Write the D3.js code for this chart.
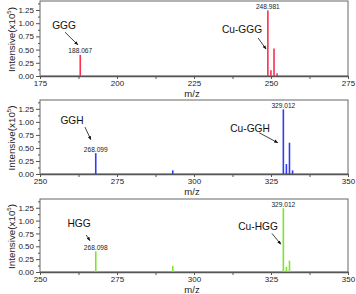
<!DOCTYPE html>
<html>
<head>
<meta charset="utf-8">
<script src="https://cdn.jsdelivr.net/npm/d3@7"></script>
<style>
  body { margin: 0; background: #fff; }
  svg { display: block; font-family: "Liberation Sans", Arial, sans-serif; }
  .axis path, .axis line { stroke: #555; }
  .axis text { fill: #222; font-size: 8px; }
</style>
</head>
<body>
<script>
// peak m/z values and intensities (x10^5) for each spectrum
var mzGGG  = [188.067, 248.981, 249.98, 250.98, 251.98];
var intGGG = [0.40, 1.24, 0.11, 0.52, 0.05];

var mzGGH  = [268.099, 293.1, 329.012, 330.0, 331.0, 332.0];
var intGGH = [0.40, 0.07, 1.24, 0.19, 0.60, 0.07];

var mzHGG  = [268.098, 293.1, 329.012, 330.0, 331.0];
var intHGG = [0.40, 0.12, 1.24, 0.10, 0.22];

var yTicks = [0, 0.25, 0.5, 0.75, 1.0, 1.25];
var xTicks1 = [175, 200, 225, 250, 275];
var xTicks2 = [250, 275, 300, 325, 350];

// labelled peaks: [name, peak index, label mz, label int, arrow from, arrow to]
var notes1 = [["GGG", 0, 182.8, 0.89, [183.1, 0.83], [187.3, 0.59]],
              ["Cu-GGG", 1, 240.6, 0.81, [245.8, 0.72], [248.4, 0.51]]];
var notes2 = [["GGH", 0, 260.4, 0.95, [264.6, 0.90], [266.5, 0.66]],
              ["Cu-GGH", 2, 318.2, 0.81, [321.2, 0.79], [327.2, 0.60]]];
var notes3 = [["HGG", 0, 262.7, 0.87, [265.0, 0.72], [266.2, 0.61]],
              ["Cu-HGG", 2, 320.8, 0.81, [325.3, 0.75], [328.2, 0.54]]];

var W = 356, H = 294;
var left = 40, right = 348;

var panels = [
  {mz: mzGGG, val: intGGG, notes: notes1, dom: [175, 275], ticks: xTicks1, color: "#fb3050", top: 1, bottom: 76},
  {mz: mzGGH, val: intGGH, notes: notes2, dom: [250, 350], ticks: xTicks2, color: "#2f3cf5", top: 100, bottom: 174},
  {mz: mzHGG, val: intHGG, notes: notes3, dom: [250, 350], ticks: xTicks2, color: "#7ae62a", top: 199, bottom: 272}
];

var svg = d3.select("body").append("svg")
    .attr("width", W)
    .attr("height", H);

var defs = svg.append("defs");
defs.append("marker")
    .attr("id", "arr")
    .attr("viewBox", "0 0 10 10")
    .attr("refX", 9).attr("refY", 5)
    .attr("markerWidth", 5).attr("markerHeight", 5)
    .attr("orient", "auto")
    .append("path")
    .attr("d", "M0,1L10,5L0,9Z")
    .attr("fill", "#111");

panels.forEach(function (p) {
    var x = d3.scaleLinear().domain(p.dom).range([left, right]);
    var y = d3.scaleLinear().domain([0, 1.42]).range([p.bottom, p.top]);

    var g = svg.append("g");

    // frame
    g.append("rect")
        .attr("x", left).attr("y", p.top)
        .attr("width", right - left).attr("height", p.bottom - p.top)
        .attr("fill", "none")
        .attr("stroke", "#666")
        .attr("stroke-width", 1);

    // minor ticks
    var minorX = d3.range(p.dom[0], p.dom[1] + 0.1, 12.5);
    g.append("g")
        .attr("class", "axis")
        .attr("transform", "translate(0," + p.bottom + ")")
        .call(d3.axisBottom(x).tickValues(minorX).tickSize(3).tickFormat(""))
        .select(".domain").remove();
    g.append("g")
        .attr("class", "axis")
        .attr("transform", "translate(" + left + ",0)")
        .call(d3.axisLeft(y).tickValues(d3.range(0.125, 1.4, 0.25)).tickSize(2).tickFormat(""))
        .select(".domain").remove();

    var xa = g.append("g")
        .attr("class", "axis")
        .attr("transform", "translate(0," + p.bottom + ")")
        .call(d3.axisBottom(x).tickValues(p.ticks).tickSize(3).tickPadding(1.5).tickSizeOuter(0).tickFormat(d3.format("d")));
    xa.select(".domain").attr("stroke", "#666").attr("stroke-width", 1.5);

    var ya = g.append("g")
        .attr("class", "axis")
        .attr("transform", "translate(" + left + ",0)")
        .call(d3.axisLeft(y).tickValues(yTicks).tickSize(4).tickPadding(2).tickSizeOuter(0).tickFormat(d3.format(".2f")));
    ya.select(".domain").remove();

    // peaks
    g.selectAll(".peak")
        .data(p.mz)
        .enter().append("line")
        .attr("class", "peak")
        .attr("x1", function (d) { return x(d); })
        .attr("x2", function (d) { return x(d); })
        .attr("y1", y(0))
        .attr("y2", function (d, i) { return y(p.val[i]); })
        .attr("stroke", p.color)
        .attr("stroke-width", 1.6);

    // annotations
    p.notes.forEach(function (n) {
        var pk = n[1];
        g.append("text")
            .attr("x", x(p.mz[pk]))
            .attr("y", y(p.val[pk]) - 1.5)
            .attr("text-anchor", "middle")
            .attr("font-size", 6.6)
            .attr("fill", "#222")
            .text(p.mz[pk].toFixed(3));

        g.append("text")
            .attr("x", x(n[2]))
            .attr("y", y(n[3]))
            .attr("text-anchor", "middle")
            .attr("font-size", 10.2)
            .attr("fill", "#111")
            .text(n[0]);

        g.append("line")
            .attr("x1", x(n[4][0])).attr("y1", y(n[4][1]))
            .attr("x2", x(n[5][0])).attr("y2", y(n[5][1]))
            .attr("stroke", "#111")
            .attr("stroke-width", 0.8)
            .attr("marker-end", "url(#arr)");
    });

    // axis titles
    g.append("text")
        .attr("x", 192)
        .attr("y", p.bottom + 20.5)
        .attr("text-anchor", "middle")
        .attr("font-size", 9.5)
        .attr("fill", "#222")
        .text("m/z");

    var yl = g.append("text")
        .attr("transform", "translate(15," + ((p.top + p.bottom) / 2 + 1) + ") rotate(-90)")
        .attr("text-anchor", "middle")
        .attr("font-size", 9.8)
        .attr("fill", "#222");
    yl.append("tspan").text("Intensive(x10");
    yl.append("tspan").attr("font-size", 6).attr("dy", -4).text("5");
    yl.append("tspan").attr("dy", 4).text(")");
});
</script>
</body>
</html>
